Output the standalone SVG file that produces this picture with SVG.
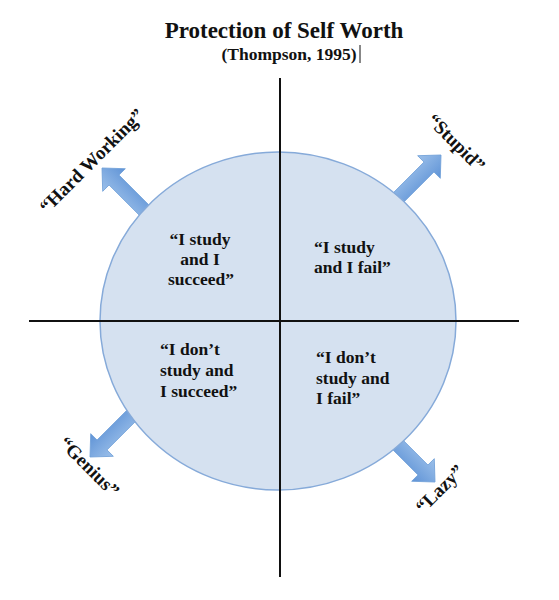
<svg xmlns="http://www.w3.org/2000/svg" width="559" height="600" viewBox="0 0 559 600">
<defs>
<linearGradient id="ag" x1="0" y1="0" x2="0" y2="1">
<stop offset="0" stop-color="#9cc0ea"/>
<stop offset="1" stop-color="#5f93d6"/>
</linearGradient>
<polygon id="arrow" points="0,0 -17,-16 -17,-7 -72,-7 -72,7 -17,7 -17,16"/>
</defs>
<style>
text{font-family:"Liberation Serif","Times New Roman",serif;font-weight:bold;fill:#111}
.q{font-size:17.5px}
.lbl{font-size:19px;text-anchor:middle}
.arr{fill:url(#ag);stroke:#6f9fd8;stroke-width:0.8}
.axis{stroke:#111;stroke-width:2}
</style>
<rect width="559" height="600" fill="#fff"/>
<g id="title">
<text x="284" y="38" font-size="23" text-anchor="middle">Protection of Self Worth</text>
<text x="289" y="60" font-size="17.5" text-anchor="middle">(Thompson, 1995)</text>
<line x1="360" y1="45" x2="360" y2="63" stroke="#111" stroke-width="1"/>
</g>
<g id="arrows">
<use href="#arrow" class="arr" transform="translate(102,168) rotate(-135)"/>
<use href="#arrow" class="arr" transform="translate(441,155) rotate(-45)"/>
<use href="#arrow" class="arr" transform="translate(90,457) rotate(135)"/>
<use href="#arrow" class="arr" transform="translate(435,482) rotate(45)"/>
</g>
<g id="circle">
<ellipse cx="278" cy="321" rx="178" ry="169" fill="#d5e1f0" stroke="#86aad9" stroke-width="1.5"/>
</g>
<g id="connectors">
<line class="axis" x1="280" y1="78" x2="280" y2="577"/>
<line class="axis" x1="29" y1="321" x2="519" y2="321"/>
</g>
<g id="q-study-succeed">
<text class="q" x="200" y="245" text-anchor="middle">“I study</text>
<text class="q" x="200" y="265" text-anchor="middle">and I</text>
<text class="q" x="201" y="285" text-anchor="middle">succeed”</text>
</g>
<g id="q-study-fail">
<text class="q" x="314" y="253">“I study</text>
<text class="q" x="314" y="273">and I fail”</text>
</g>
<g id="q-nostudy-succeed">
<text class="q" x="160" y="355">“I don’t</text>
<text class="q" x="160" y="376">study and</text>
<text class="q" x="160" y="397">I succeed”</text>
</g>
<g id="q-nostudy-fail">
<text class="q" x="316" y="363">“I don’t</text>
<text class="q" x="316" y="384">study and</text>
<text class="q" x="316" y="404">I fail”</text>
</g>
<g id="label-hard-working">
<text class="lbl" transform="translate(92,161) rotate(-45)" y="6">“Hard Working”</text>
</g>
<g id="label-stupid">
<text class="lbl" transform="translate(456,143) rotate(45)" y="6">“Stupid”</text>
</g>
<g id="label-genius">
<text class="lbl" transform="translate(89,467) rotate(45)" y="6">“Genius”</text>
</g>
<g id="label-lazy">
<text class="lbl" transform="translate(440,489) rotate(-45)" y="6">“Lazy”</text>
</g>
</svg>
